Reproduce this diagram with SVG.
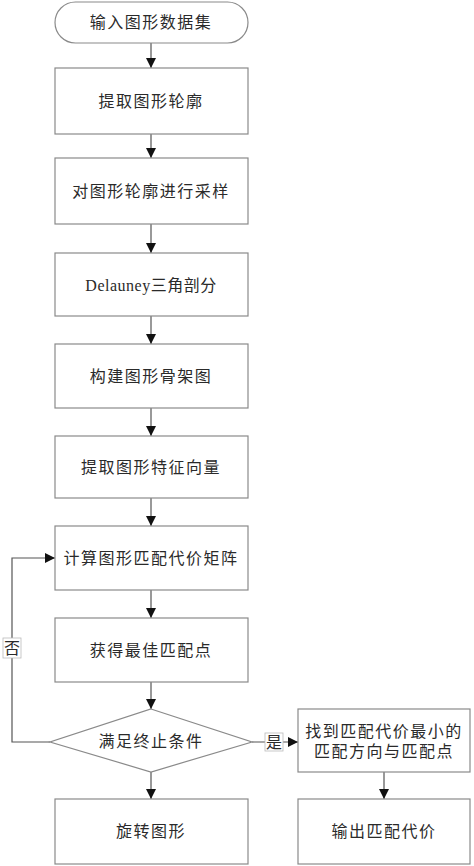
<svg xmlns="http://www.w3.org/2000/svg" width="474" height="866" viewBox="0 0 474 866">
<style>
.n{fill:#fff;stroke:#8a8a8a;stroke-width:1.2}
.t{font-family:"Liberation Serif","Noto Sans CJK SC",serif;font-size:16px;fill:#2a2a2a;text-anchor:middle;dominant-baseline:central;letter-spacing:1.5px}
.c{fill:none;stroke:#555;stroke-width:1.2}
.lb{fill:#fff;stroke:#bbb;stroke-width:0.8}
</style>
<defs>
<marker id="a" viewBox="0 0 10 10" refX="10" refY="5" markerWidth="10" markerHeight="10" markerUnits="userSpaceOnUse" orient="auto">
<path d="M0,0 L10,5 L0,10 z" fill="#111"/>
</marker>
</defs>
<rect width="474" height="866" fill="#fff"/>
<g id="connectors">
<line class="c" x1="151" y1="43" x2="151" y2="68" marker-end="url(#a)"/>
<line class="c" x1="151" y1="134" x2="151" y2="158" marker-end="url(#a)"/>
<line class="c" x1="151" y1="224" x2="151" y2="253" marker-end="url(#a)"/>
<line class="c" x1="151" y1="316" x2="151" y2="344" marker-end="url(#a)"/>
<line class="c" x1="151" y1="408" x2="151" y2="436" marker-end="url(#a)"/>
<line class="c" x1="151" y1="498" x2="151" y2="526" marker-end="url(#a)"/>
<line class="c" x1="151" y1="590" x2="151" y2="618" marker-end="url(#a)"/>
<line class="c" x1="151" y1="682" x2="151" y2="709" marker-end="url(#a)"/>
<line class="c" x1="151" y1="772" x2="151" y2="799" marker-end="url(#a)"/>
<polyline class="c" points="50,742 12,742 12,558 55,558" marker-end="url(#a)"/>
<line class="c" x1="252" y1="742" x2="298" y2="742" marker-end="url(#a)"/>
<line class="c" x1="384" y1="772" x2="384" y2="799" marker-end="url(#a)"/>
<rect class="lb" x="3" y="638" width="18" height="20"/>
<text class="t" x="12" y="648" style="letter-spacing:0">否</text>
<rect class="lb" x="265" y="733" width="18" height="18"/>
<text class="t" x="274" y="742" style="letter-spacing:0">是</text>
</g>
<g id="start"><rect class="n" x="55" y="2" width="193" height="41" rx="20.5"/><text class="t" x="151" y="22">输入图形数据集</text></g>
<g id="n1"><rect class="n" x="55" y="68" width="193" height="66"/><text class="t" x="151" y="101">提取图形轮廓</text></g>
<g id="n2"><rect class="n" x="55" y="158" width="193" height="66"/><text class="t" x="151" y="191">对图形轮廓进行采样</text></g>
<g id="n3"><rect class="n" x="55" y="253" width="193" height="63"/><text class="t" x="151" y="285" style="letter-spacing:0.5px">Delauney三角剖分</text></g>
<g id="n4"><rect class="n" x="55" y="344" width="193" height="64"/><text class="t" x="151" y="376">构建图形骨架图</text></g>
<g id="n5"><rect class="n" x="55" y="436" width="193" height="62"/><text class="t" x="151" y="467">提取图形特征向量</text></g>
<g id="n6"><rect class="n" x="55" y="526" width="193" height="64"/><text class="t" x="151" y="558">计算图形匹配代价矩阵</text></g>
<g id="n7"><rect class="n" x="55" y="618" width="193" height="64"/><text class="t" x="151" y="650">获得最佳匹配点</text></g>
<g id="d"><polygon class="n" points="151,709 252,742 151,772 50,742"/><text class="t" x="151" y="741">满足终止条件</text></g>
<g id="r1"><rect class="n" x="298" y="709" width="172" height="63"/><text class="t" x="384" y="731">找到匹配代价最小的</text><text class="t" x="384" y="751">匹配方向与匹配点</text></g>
<g id="n8"><rect class="n" x="55" y="799" width="193" height="65"/><text class="t" x="151" y="831">旋转图形</text></g>
<g id="r2"><rect class="n" x="298" y="799" width="172" height="65"/><text class="t" x="384" y="831">输出匹配代价</text></g>
</svg>
